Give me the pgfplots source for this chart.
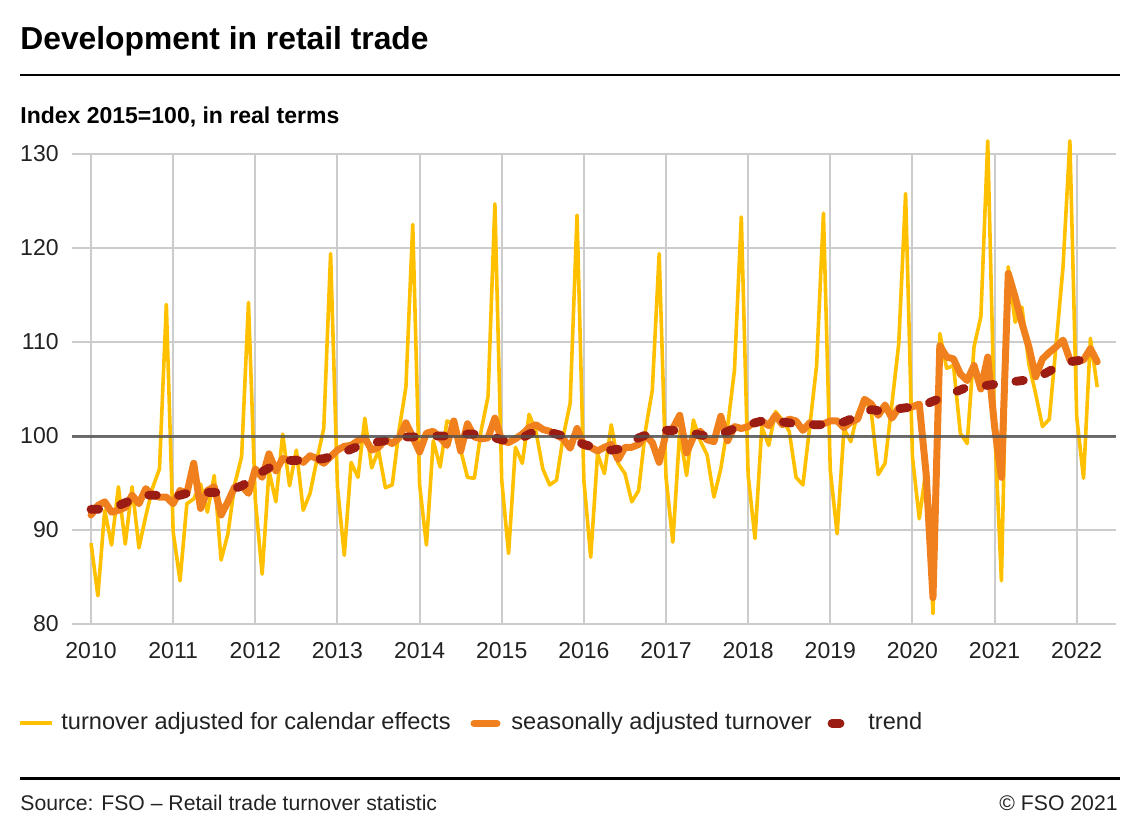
\documentclass[border=0pt]{standalone}
\usepackage{fontspec}
\setmainfont{Liberation Sans}
\usepackage{pgfplots}
\pgfplotsset{compat=1.18}
\definecolor{cyel}{HTML}{FFC000}
\definecolor{cora}{HTML}{F0801E}
\definecolor{cred}{HTML}{9B1C12}
\definecolor{cgrid}{HTML}{CCCCCC}
\definecolor{cref}{HTML}{505050}
\definecolor{ctxt}{HTML}{222222}
\begin{document}
\begin{tikzpicture}[x=1pt,y=1pt]
\path[use as bounding box] (0,0) rectangle (570,420);
\node[anchor=base west, inner sep=0pt] at (10,395) {\fontsize{15.9}{18}\selectfont\bfseries Development in retail trade};
\draw[black, line width=1.3pt] (10,382.5) -- (560,382.5);
\node[anchor=base west, inner sep=0pt] at (10,358.3) {\fontsize{11.5}{14}\selectfont\bfseries Index 2015=100, in real terms};
\begin{axis}[
  at={(36pt,108pt)}, anchor=south west,
  scale only axis, width=522pt, height=235pt,
  xmin=-2.78, xmax=149.74, ymin=80, ymax=130,
  clip=false,
  axis line style={draw=none},
  major tick length=0pt,
  xtick={0,12,24,36,48,60,72,84,96,108,120,132,144},
  xticklabels={2010,2011,2012,2013,2014,2015,2016,2017,2018,2019,2020,2021,2022},
  ytick={80,90,100,110,120,130},
  grid=major,
  major grid style={cgrid, line width=1pt},
  tick label style={font=\fontsize{11.5}{13}\selectfont, text=ctxt},
  /pgf/number format/assume math mode=true,
  yticklabel style={anchor=east, inner sep=0pt, xshift=-6.5pt},
  xticklabel style={anchor=north, inner sep=0pt, yshift=-9pt},
]
\addplot[cyel, line width=1.8pt, line join=round] coordinates {
(0,88.6) (1,83.0) (2,92.1) (3,88.4) (4,94.6) (5,88.5) (6,94.6) (7,88.1) (8,91.5) (9,94.5) (10,96.5) (11,114.0)
(12,89.8) (13,84.6) (14,92.8) (15,93.3) (16,94.9) (17,91.9) (18,95.8) (19,86.8) (20,89.6) (21,94.9) (22,97.8) (23,114.2)
(24,93.2) (25,85.3) (26,96.3) (27,93.0) (28,100.2) (29,94.7) (30,98.5) (31,92.1) (32,93.9) (33,97.5) (34,100.8) (35,119.4)
(36,94.6) (37,87.3) (38,97.2) (39,95.6) (40,101.9) (41,96.6) (42,98.5) (43,94.5) (44,94.8) (45,100.6) (46,105.2) (47,122.5)
(48,94.8) (49,88.4) (50,99.5) (51,96.7) (52,101.6) (53,101.2) (54,98.5) (55,95.6) (56,95.5) (57,100.6) (58,104.2) (59,124.7)
(60,95.3) (61,87.5) (62,98.8) (63,97.1) (64,102.3) (65,100.5) (66,96.5) (67,94.8) (68,95.3) (69,100.0) (70,103.5) (71,123.5)
(72,95.3) (73,87.1) (74,98.1) (75,96.0) (76,101.2) (77,97.1) (78,96.0) (79,93.0) (80,94.2) (81,100.6) (82,104.9) (83,119.4)
(84,95.6) (85,88.7) (86,100.5) (87,95.8) (88,101.7) (89,99.5) (90,98.0) (91,93.5) (92,96.5) (93,101.0) (94,107.0) (95,123.3)
(96,95.8) (97,89.1) (98,101.0) (99,99.0) (100,102.6) (101,101.7) (102,100.5) (103,95.6) (104,94.8) (105,101.0) (106,107.5) (107,123.7)
(108,96.3) (109,89.6) (110,100.8) (111,99.4) (112,102.5) (113,104.0) (114,102.5) (115,95.9) (116,97.1) (117,103.4) (118,109.8) (119,125.8)
(120,97.8) (121,91.2) (122,96.5) (123,81.1) (124,110.9) (125,107.2) (126,107.5) (127,100.3) (128,99.2) (129,109.5) (130,112.7) (131,131.4)
(132,101.0) (133,84.6) (134,118.0) (135,112.1) (136,113.7) (137,107.7) (138,104.5) (139,101.0) (140,101.8) (141,109.8) (142,118.0) (143,131.4)
(144,102.0) (145,95.5) (146,110.4) (147,105.2)
};
\addplot[cora, line width=3.5pt, line join=round, line cap=round] coordinates {
(0,91.6) (1,92.6) (2,93.0) (3,91.9) (4,92.1) (5,92.4) (6,93.7) (7,92.8) (8,94.4) (9,93.7) (10,93.5) (11,93.5)
(12,92.8) (13,94.2) (14,93.9) (15,97.1) (16,92.3) (17,94.2) (18,94.6) (19,91.6) (20,93.0) (21,94.6) (22,94.7) (23,93.9)
(24,96.5) (25,95.6) (26,98.1) (27,96.3) (28,97.6) (29,97.4) (30,97.6) (31,97.2) (32,97.9) (33,97.6) (34,97.1) (35,97.8)
(36,98.5) (37,98.9) (38,99.0) (39,99.5) (40,99.8) (41,98.5) (42,98.8) (43,99.6) (44,99.2) (45,99.8) (46,101.4) (47,99.9)
(48,98.3) (49,100.3) (50,100.5) (51,99.8) (52,99.0) (53,101.6) (54,98.4) (55,101.3) (56,99.9) (57,99.7) (58,99.8) (59,101.9)
(60,99.5) (61,99.3) (62,99.7) (63,100.2) (64,100.9) (65,101.2) (66,100.7) (67,100.5) (68,100.1) (69,99.7) (70,98.7) (71,100.8)
(72,99.0) (73,98.8) (74,98.4) (75,98.8) (76,99.1) (77,97.5) (78,98.8) (79,98.8) (80,99.1) (81,100.1) (82,99.3) (83,97.2)
(84,100.3) (85,100.8) (86,102.2) (87,98.2) (88,99.9) (89,100.5) (90,99.6) (91,99.4) (92,102.1) (93,99.5) (94,101.0) (95,100.8)
(96,101.0) (97,101.5) (98,101.6) (99,101.1) (100,102.2) (101,101.2) (102,101.8) (103,101.6) (104,100.6) (105,101.4) (106,101.1) (107,101.3)
(108,101.6) (109,101.6) (110,100.9) (111,101.5) (112,101.8) (113,103.9) (114,103.4) (115,102.2) (116,103.3) (117,101.9) (118,103.0) (119,103.0)
(120,103.1) (121,103.4) (122,96.0) (123,82.8) (124,109.6) (125,108.4) (126,108.2) (127,106.6) (128,105.9) (129,107.5) (130,105.0) (131,108.4)
(132,101.0) (133,95.6) (134,117.3) (135,114.8) (136,112.0) (137,109.5) (138,106.3) (139,108.2) (140,108.9) (141,109.5) (142,110.2) (143,108.1)
(144,107.9) (145,108.1) (146,109.3) (147,107.9)
};
\addplot[cred, line width=4.4pt, line cap=round, line join=round, dash pattern=on 3.8pt off 11.2pt] coordinates {
(0,92.2) (1,92.2) (2,92.3) (3,92.4) (4,92.6) (5,92.9) (6,93.2) (7,93.5) (8,93.7) (9,93.7) (10,93.7) (11,93.6)
(12,93.6) (13,93.7) (14,93.9) (15,94.0) (16,94.0) (17,94.0) (18,94.0) (19,94.0) (20,94.1) (21,94.4) (22,94.7) (23,95.1)
(24,95.6) (25,96.2) (26,96.6) (27,97.0) (28,97.3) (29,97.4) (30,97.4) (31,97.4) (32,97.5) (33,97.5) (34,97.6) (35,97.8)
(36,98.0) (37,98.3) (38,98.6) (39,98.9) (40,99.1) (41,99.2) (42,99.4) (43,99.5) (44,99.7) (45,99.8) (46,99.9) (47,99.9)
(48,100.0) (49,100.0) (50,100.0) (51,100.0) (52,100.0) (53,100.1) (54,100.1) (55,100.2) (56,100.2) (57,100.1) (58,100.0) (59,99.8)
(60,99.6) (61,99.4) (62,99.5) (63,99.8) (64,100.2) (65,100.5) (66,100.5) (67,100.4) (68,100.2) (69,100.0) (70,99.7) (71,99.4)
(72,99.1) (73,98.9) (74,98.7) (75,98.5) (76,98.5) (77,98.6) (78,99.0) (79,99.4) (80,99.8) (81,100.1) (82,100.4) (83,100.5)
(84,100.6) (85,100.6) (86,100.5) (87,100.4) (88,100.3) (89,100.1) (90,100.0) (91,100.0) (92,100.2) (93,100.5) (94,100.8) (95,101.0)
(96,101.2) (97,101.4) (98,101.6) (99,101.6) (100,101.6) (101,101.5) (102,101.4) (103,101.3) (104,101.2) (105,101.2) (106,101.2) (107,101.2)
(108,101.2) (109,101.3) (110,101.5) (111,101.8) (112,102.1) (113,102.5) (114,102.8) (115,102.7) (116,102.7) (117,102.8) (118,102.9) (119,103.0)
(120,103.1) (121,103.2) (122,103.4) (123,103.7) (124,104.0) (125,104.3) (126,104.6) (127,104.9) (128,105.2) (129,105.3) (130,105.3) (131,105.4)
(132,105.5) (133,105.6) (134,105.7) (135,105.8) (136,105.9) (137,106.0) (138,106.2) (139,106.5) (140,106.9) (141,107.3) (142,107.7) (143,107.9)
(144,108.0) (145,108.1) (146,108.2) (147,108.3)
};
\addplot[cref, opacity=0.8, line width=1.5pt, forget plot] coordinates {(-2.78,100) (149.74,100)};
\end{axis}
% legend
\draw[cyel, line width=1.9pt] (10,58.35) -- (25.85,58.35);
\node[anchor=base west, inner sep=0pt, text=ctxt] at (30.5,55.35) {\fontsize{11.8}{14}\selectfont turnover adjusted for calendar effects};
\draw[cora, line width=3.5pt, line cap=round] (237,58.35) -- (248.5,58.35);
\node[anchor=base west, inner sep=0pt, text=ctxt] at (255.5,55.35) {\fontsize{11.8}{14}\selectfont seasonally adjusted turnover};
\draw[cred, line width=4.4pt, line cap=round] (416,58.35) -- (420,58.35);
\node[anchor=base west, inner sep=0pt, text=ctxt] at (434,55.35) {\fontsize{11.8}{14}\selectfont trend};
\draw[black, line width=1.4pt] (10,30.65) -- (560,30.65);
\node[anchor=base west, inner sep=0pt, text=ctxt] at (10,14.65) {\fontsize{10.6}{13}\selectfont Source: FSO – Retail trade turnover statistic};
\node[anchor=base east, inner sep=0pt, text=ctxt] at (559,14.65) {\fontsize{10.6}{13}\selectfont © FSO 2021};
\end{tikzpicture}
\end{document}
